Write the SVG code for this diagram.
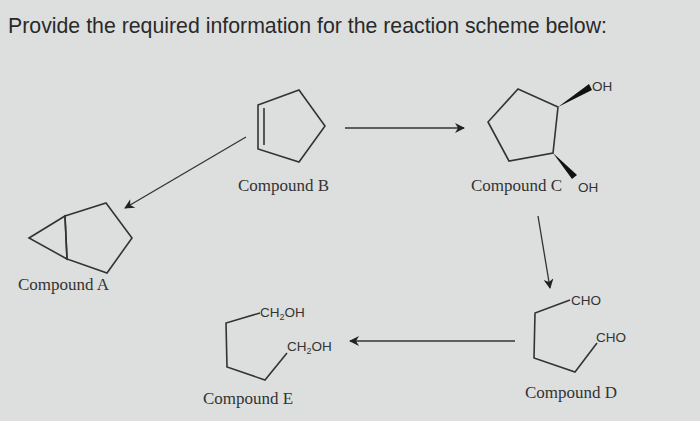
<svg xmlns="http://www.w3.org/2000/svg" width="700" height="421" viewBox="0 0 700 421">
<style>
.b{fill:none;stroke:#333;stroke-width:1.6;stroke-linejoin:miter}
.c{stroke:#333;stroke-width:1.3;fill:none}
.l{font-family:"Liberation Serif",serif;font-size:17px;fill:#333}
.g{font-family:"Liberation Sans",sans-serif;font-size:13.5px;fill:#333}
.s{font-size:9px}
</style>
<defs><marker id="ah" viewBox="0 0 10 10" refX="9" refY="5" markerWidth="13" markerHeight="10" markerUnits="userSpaceOnUse" orient="auto"><path d="M0,0 L10,5 L0,10 L3,5 Z" fill="#222"/></marker></defs>
<rect width="700" height="421" fill="#dddfde"/>
<text x="8" y="33" font-family="Liberation Sans,sans-serif" font-size="21.3" fill="#2a2a2a">Provide the required information for the reaction scheme below:</text>
<g id="compoundB"><polygon class="b" points="258,105 299,90 325,126 299,162 258,149"/><line class="b" x1="264" y1="108" x2="264" y2="145"/><text class="l" x="238" y="191">Compound B</text></g>
<g id="compoundA"><polygon class="b" points="29,238 65,216 67,259"/><polygon class="b" points="65,216 106,203 132,238 107,273 67,259"/><text class="l" x="18" y="290">Compound A</text></g>
<g id="compoundC"><polygon class="b" points="518,89 558,107 553,153 509,161 488,122"/><polygon points="558,107 589,84 592,90" fill="#111"/><polygon points="553,153 572,179 577,175" fill="#111"/><text class="g" x="592" y="91">OH</text><text class="g" x="578" y="192">OH</text><text class="l" x="471" y="191">Compound C</text></g>
<g id="compoundD"><polyline class="b" points="570,300 535,313 534,358 575,372 597,343"/><text class="g" x="571" y="305">CHO</text><text class="g" x="596" y="342">CHO</text><text class="l" x="525" y="398">Compound D</text></g>
<g id="compoundE"><polyline class="b" points="260,313 226,323 227,367 265,380 287,353"/><text class="g" x="260" y="317">CH<tspan class="s" dy="3">2</tspan><tspan dy="-3">OH</tspan></text><text class="g" x="287" y="351">CH<tspan class="s" dy="3">2</tspan><tspan dy="-3">OH</tspan></text><text class="l" x="203" y="404">Compound E</text></g>
<g id="connectors">
<line class="c" x1="246" y1="137" x2="125" y2="208" marker-end="url(#ah)"/>
<line class="c" x1="345" y1="128" x2="464" y2="128" marker-end="url(#ah)"/>
<line class="c" x1="538" y1="216" x2="550" y2="288" marker-end="url(#ah)"/>
<line class="c" x1="515" y1="341" x2="350" y2="341" marker-end="url(#ah)"/>
</g>
</svg>
